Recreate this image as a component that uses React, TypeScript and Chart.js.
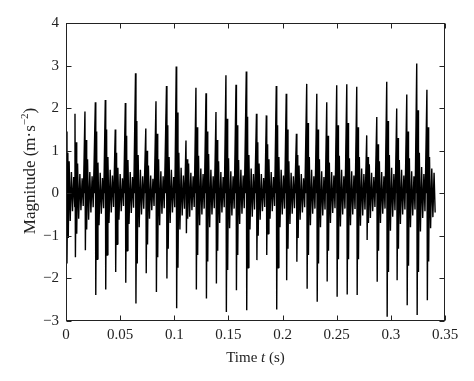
import React, { useEffect, useRef } from 'react';
import { Chart, registerables } from 'chart.js';

Chart.register(...registerables);

// Impulse times (s)
const spikeTimes = [0.0005, 0.0083, 0.0175, 0.0271, 0.0363, 0.0455, 0.0548, 0.0642, 0.0737, 0.0831,
  0.0928, 0.1018, 0.1108, 0.1200, 0.1293, 0.1385, 0.1477, 0.1570, 0.1665, 0.1759,
  0.1850, 0.1942, 0.2034, 0.2128, 0.2223, 0.2316, 0.2408, 0.2500, 0.2593, 0.2685,
  0.2777, 0.2870, 0.2962, 0.3054, 0.3147, 0.3239, 0.3333];

// Main positive / negative peak of each impulse (m·s^-2)
const spikeMax = [1.45, 1.87, 1.92, 2.14, 2.19, 1.50, 2.12, 2.82, 1.52, 2.16,
  2.52, 2.98, 1.24, 2.48, 2.35, 1.91, 2.77, 2.55, 2.86, 1.87,
  1.83, 2.52, 2.34, 1.40, 2.57, 2.34, 2.14, 2.54, 2.56, 2.50,
  1.36, 1.79, 2.62, 1.99, 2.32, 3.05, 2.43];
const spikeMin = [-1.65, -1.50, -1.34, -2.39, -2.26, -1.85, -2.10, -2.59, -1.88, -2.32,
  -2.00, -2.70, -0.94, -2.26, -2.47, -2.12, -2.79, -2.28, -2.75, -1.57,
  -1.45, -2.73, -2.04, -1.61, -2.24, -2.55, -2.07, -2.43, -2.38, -2.39,
  -1.10, -2.08, -2.90, -2.04, -2.63, -2.86, -2.51];

// Secondary ringing peak right after each impulse
const ringMax = [0.95, 1.20, 1.25, 1.45, 1.50, 0.95, 1.35, 1.70, 1.00, 1.40,
  1.60, 1.90, 0.80, 1.55, 1.45, 1.25, 1.75, 1.60, 1.80, 1.20,
  1.15, 1.60, 1.50, 0.90, 1.65, 1.50, 1.35, 1.60, 1.65, 1.55,
  0.85, 1.15, 1.70, 1.30, 1.45, 1.95, 1.55];
const ringMin = [-1.05, -0.95, -0.85, -1.55, -1.45, -1.20, -1.35, -1.65, -1.20, -1.50,
  -1.30, -1.75, -0.60, -1.45, -1.60, -1.35, -1.80, -1.45, -1.75, -1.00,
  -0.95, -1.75, -1.30, -1.05, -1.45, -1.65, -1.35, -1.55, -1.55, -1.55,
  -0.70, -1.35, -1.85, -1.30, -1.70, -1.85, -1.60];

// Background vibration band after each impulse: [near, middle, late]
const bandUpper = [
  [0.75, 0.50, 0.38], [0.70, 0.45, 0.35], [0.80, 0.50, 0.40], [0.72, 0.48, 0.36], [0.85, 0.55, 0.42],
  [0.60, 0.45, 0.35], [0.78, 0.50, 0.38], [0.90, 0.55, 0.40], [0.65, 0.42, 0.34], [0.80, 0.52, 0.40],
  [0.85, 0.55, 0.38], [0.95, 0.60, 0.42], [0.70, 0.48, 0.40], [0.88, 0.58, 0.45], [0.92, 0.55, 0.40],
  [0.75, 0.50, 0.38], [0.82, 0.52, 0.40], [0.78, 0.55, 0.42], [0.90, 0.58, 0.45], [0.70, 0.45, 0.36],
  [0.80, 0.50, 0.38], [0.85, 0.55, 0.42], [0.75, 0.48, 0.40], [0.65, 0.45, 0.35], [0.85, 0.55, 0.40],
  [0.80, 0.52, 0.38], [0.72, 0.50, 0.42], [0.88, 0.55, 0.40], [0.82, 0.52, 0.42], [0.85, 0.58, 0.45],
  [0.68, 0.48, 0.38], [0.75, 0.50, 0.40], [0.90, 0.60, 0.45], [0.78, 0.55, 0.42], [0.82, 0.52, 0.40],
  [0.95, 0.62, 0.45], [0.85, 0.58, 0.48]];
const bandLower = [
  [-0.65, -0.42, -0.32], [-0.60, -0.40, -0.30], [-0.62, -0.45, -0.33], [-0.75, -0.48, -0.35], [-0.70, -0.45, -0.32],
  [-0.62, -0.42, -0.30], [-0.72, -0.46, -0.34], [-0.80, -0.50, -0.36], [-0.60, -0.40, -0.30], [-0.75, -0.48, -0.35],
  [-0.70, -0.45, -0.33], [-0.85, -0.52, -0.36], [-0.55, -0.40, -0.32], [-0.75, -0.50, -0.36], [-0.80, -0.50, -0.35],
  [-0.70, -0.45, -0.33], [-0.82, -0.52, -0.36], [-0.72, -0.48, -0.35], [-0.85, -0.55, -0.38], [-0.62, -0.42, -0.32],
  [-0.60, -0.42, -0.30], [-0.80, -0.50, -0.36], [-0.72, -0.48, -0.35], [-0.62, -0.45, -0.33], [-0.75, -0.48, -0.36],
  [-0.80, -0.52, -0.38], [-0.70, -0.46, -0.35], [-0.78, -0.50, -0.36], [-0.75, -0.50, -0.37], [-0.76, -0.52, -0.38],
  [-0.58, -0.42, -0.32], [-0.70, -0.48, -0.36], [-0.88, -0.55, -0.40], [-0.72, -0.50, -0.38], [-0.80, -0.52, -0.38],
  [-0.90, -0.58, -0.42], [-0.82, -0.56, -0.45]];

const xTickValues = [0, 0.05, 0.1, 0.15, 0.2, 0.25, 0.3, 0.35];
const xTickLabels = ['0', '0.05', '0.1', '0.15', '0.2', '0.25', '0.3', '0.35'];
const yTickValues = [-3, -2, -1, 0, 1, 2, 3, 4];
const yTickLabels = ['\u22123', '\u22122', '\u22121', '0', '1', '2', '3', '4'];

const xTitleParts = ['Time ', 't', ' (s)'];
const yTitleParts = ['Magnitude (m\u00b7s', '\u22122', ')'];

const SERIF = '"Liberation Serif", "Times New Roman", serif';

function buildSignal() {
  const pts: { x: number; y: number }[] = [];
  spikeTimes.forEach((t, i) => {
    pts.push({ x: t, y: spikeMax[i] });
    pts.push({ x: t + 0.0004, y: spikeMin[i] });
    pts.push({ x: t + 0.0012, y: ringMax[i] });
    pts.push({ x: t + 0.0016, y: ringMin[i] });
    for (let k = 0; k < 3; k++) {
      pts.push({ x: t + 0.0024 + k * 0.0021, y: bandUpper[i][k] });
      pts.push({ x: t + 0.0034 + k * 0.0021, y: bandLower[i][k] });
    }
  });
  return pts;
}

const framePlugin = {
  id: 'matlabFrame',
  afterDraw(chart: any) {
    const { ctx, chartArea, scales } = chart;
    const L = Math.round(chartArea.left) + 0.5;
    const R = Math.round(chartArea.right) - 0.5;
    const T = Math.round(chartArea.top) + 0.5;
    const B = Math.round(chartArea.bottom) - 0.5;
    ctx.save();
    ctx.strokeStyle = '#222';
    ctx.lineWidth = 1;
    ctx.strokeRect(L, T, R - L, B - T);
    const tl = 5;
    ctx.beginPath();
    xTickValues.forEach((v) => {
      const px = Math.round(scales.x.getPixelForValue(v)) + 0.5;
      ctx.moveTo(px, B); ctx.lineTo(px, B - tl);
      ctx.moveTo(px, T); ctx.lineTo(px, T + tl);
    });
    yTickValues.forEach((v) => {
      const py = Math.round(scales.y.getPixelForValue(v)) + 0.5;
      ctx.moveTo(L, py); ctx.lineTo(L + tl, py);
      ctx.moveTo(R, py); ctx.lineTo(R - tl, py);
    });
    ctx.stroke();

    // x title with italic t
    ctx.fillStyle = '#222';
    ctx.textBaseline = 'alphabetic';
    const fN = `15px ${SERIF}`;
    const fI = `italic 15px ${SERIF}`;
    const fonts = [fN, fI, fN];
    let total = 0;
    const widths = xTitleParts.map((s, i) => { ctx.font = fonts[i]; const w = ctx.measureText(s).width; total += w; return w; });
    let cx = (chartArea.left + chartArea.right) / 2 - total / 2;
    const baseY = 362;
    xTitleParts.forEach((s, i) => { ctx.font = fonts[i]; ctx.fillText(s, cx, baseY); cx += widths[i]; });

    // y title rotated, with superscript
    ctx.save();
    ctx.translate(35, 171);
    ctx.rotate(-Math.PI / 2);
    const yf = `17px ${SERIF}`;
    const ys = `11px ${SERIF}`;
    ctx.font = yf; const w0 = ctx.measureText(yTitleParts[0]).width;
    ctx.font = ys; const w1 = ctx.measureText(yTitleParts[1]).width;
    ctx.font = yf; const w2 = ctx.measureText(yTitleParts[2]).width;
    let sx = -(w0 + w1 + w2) / 2;
    ctx.font = yf; ctx.fillText(yTitleParts[0], sx, 0); sx += w0;
    ctx.font = ys; ctx.fillText(yTitleParts[1], sx, -7); sx += w1;
    ctx.font = yf; ctx.fillText(yTitleParts[2], sx, 0);
    ctx.restore();
    ctx.restore();
  },
};

export default function App() {
  const ref = useRef<HTMLCanvasElement>(null);
  useEffect(() => {
    if (!ref.current) return;
    const chart = new Chart(ref.current, {
      type: 'line',
      data: {
        datasets: [{
          data: buildSignal(),
          borderColor: '#000',
          backgroundColor: '#000',
          borderWidth: 1.4,
          pointRadius: 0,
          fill: 'origin',
          tension: 0,
          borderJoinStyle: 'bevel',
        }],
      },
      options: {
        responsive: false,
        animation: false,
        parsing: false,
        normalized: true,
        layout: { padding: { left: 0, right: 29, top: 23, bottom: 0 } },
        plugins: { legend: { display: false }, tooltip: { enabled: false }, title: { display: false } },
        scales: {
          x: {
            type: 'linear', min: 0, max: 0.35,
            afterBuildTicks: (s: any) => { s.ticks = xTickValues.map((v) => ({ value: v })); },
            afterFit: (s: any) => { s.height = 60; },
            grid: { display: false, drawTicks: false },
            border: { display: false },
            ticks: {
              autoSkip: false, maxRotation: 0, padding: 5, color: '#222',
              font: { family: SERIF, size: 15 },
              callback: (_v: any, i: number) => xTickLabels[i],
            },
          },
          y: {
            type: 'linear', min: -3, max: 4,
            afterBuildTicks: (s: any) => { s.ticks = yTickValues.map((v) => ({ value: v })); },
            afterFit: (s: any) => { s.width = 66; },
            grid: { display: false, drawTicks: false },
            border: { display: false },
            ticks: {
              autoSkip: false, padding: 7, color: '#222',
              font: { family: SERIF, size: 15 },
              callback: (_v: any, i: number) => yTickLabels[i],
            },
          },
        },
      },
      plugins: [framePlugin],
    } as any);
    return () => chart.destroy();
  }, []);
  return (
    <div style={{ position: 'absolute', left: 0, top: 0, width: 474, height: 381, background: '#fff' }}>
      <canvas ref={ref} width={474} height={381} style={{ display: 'block' }} />
    </div>
  );
}
